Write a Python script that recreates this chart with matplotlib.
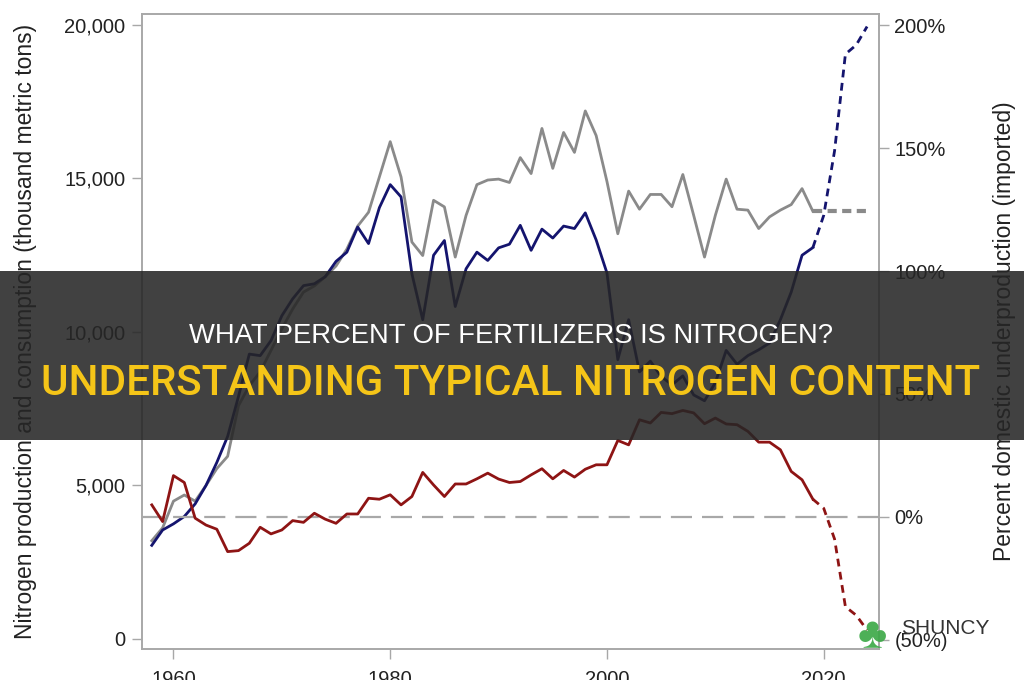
import matplotlib.pyplot as plt
from matplotlib.patches import Rectangle

plt.rcParams.update({"font.family": ["Liberation Sans", "DejaVu Sans"]})

# annual series, 1958-2019 (solid part)
years = list(range(1958, 2020))
production = [
    3050, 3550, 3750, 3990, 4400, 5000, 5750, 6600, 7900, 9280,
    9230, 9720, 10530, 11080, 11510, 11570, 11800, 12300, 12600, 13420,
    12880, 14050, 14800, 14400, 11900, 10400, 12500, 12980, 10830, 12060,
    12600, 12330, 12740, 12860, 13475, 12660, 13350, 13060, 13450, 13370,
    13880, 13000, 11920, 9100, 10400, 8700, 9050, 8550, 8280, 8570,
    7950, 7760, 8350, 9400, 8950, 9230, 9420, 9640, 10400, 11300,
    12500, 12750,
]
consumption = [
    3200, 3620, 4490, 4690, 4490, 5000, 5550, 5950, 7600, 8250,
    8700, 9400, 10100, 10750, 11300, 11500, 11800, 12150, 12700, 13450,
    13900, 15050, 16200, 15050, 12930, 12490, 14290, 14075, 12440, 13800,
    14800, 14950, 14980, 14870, 15680, 15160, 16630, 15330, 16500, 15850,
    17200, 16400, 14900, 13200, 14590, 14000, 14480, 14480, 14080, 15130,
    13800, 12440, 13800, 14980, 14000, 13970, 13370, 13750, 13970, 14150,
    14670, 13930,
]
underproduction = [
    4.9, -1.9, 16.8, 14.0, -0.5, -3.3, -5.0, -14.1, -13.7, -10.7,
    -4.2, -6.9, -5.3, -1.5, -2.2, 1.5, -0.9, -2.6, 1.2, 1.2,
    7.6, 7.2, 9.0, 4.9, 8.3, 18.1, 13.0, 8.3, 13.4, 13.4,
    15.5, 17.8, 15.4, 14.0, 14.4, 17.1, 19.6, 15.5, 18.9, 16.2,
    19.4, 21.2, 21.2, 31.1, 29.3, 39.5, 38.2, 42.5, 42.0, 43.3,
    42.3, 37.9, 40.2, 37.8, 37.5, 34.8, 30.4, 30.4, 27.3, 18.5,
    15.1, 7.2,
]

# projections, 2019-2024 (dashed part)
proj_years = [2019, 2020, 2021, 2022, 2023, 2024]
proj_production = [12750, 13800, 15900, 19050, 19350, 19950]
proj_consumption = [13930, 13930, 13930, 13930, 13930, 13930]
proj_underproduction = [7.2, 3.5, -9.0, -36.5, -40.0, -46.0]

left_ticks = [0, 5000, 10000, 15000, 20000]
left_labels = ["0", "5,000", "10,000", "15,000", "20,000"]
right_ticks = [-50, 0, 50, 100, 150, 200]
right_labels = ["(50%)", "0%", "50%", "100%", "150%", "200%"]
x_ticks = [1960, 1980, 2000, 2020]

title = "WHAT PERCENT OF FERTILIZERS IS NITROGEN?"
subtitle = "UNDERSTANDING TYPICAL NITROGEN CONTENT"

NAVY = "#14146e"
GRAY = "#8a8a8a"
RED = "#8e1414"
SPINE = "#a8a8a8"

fig = plt.figure(figsize=(10.24, 6.8), dpi=100)
ax = fig.add_axes([0.1387, 0.0456, 0.7197, 0.9338])
ax2 = ax.twinx()

ax.plot(years, consumption, color=GRAY, lw=2.0, zorder=3)
ax.plot(years, production, color=NAVY, lw=2.0, zorder=4)
ax.plot(proj_years, proj_consumption, color=GRAY, lw=3.0, dashes=(2.2, 1.3), zorder=3)
ax.plot(proj_years, proj_production, color=NAVY, lw=2.0, dashes=(2.8, 2.0), zorder=4)

ax2.axhline(0, color="#a8a8a8", lw=1.6, dashes=(9.5, 4.5), zorder=1)
ax2.plot(years, underproduction, color=RED, lw=2.0, zorder=3)
ax2.plot(proj_years, proj_underproduction, color=RED, lw=2.0, dashes=(2.8, 2.0), zorder=3)

ax.set_xlim(1957.1, 2025.1)
ax.set_ylim(-326, 20358)
ax2.set_ylim(-53.7, 204.5)

ax.set_xticks(x_ticks)
ax.set_yticks(left_ticks)
ax.set_yticklabels(left_labels)
ax2.set_yticks(right_ticks)
ax2.set_yticklabels(right_labels)

for a in (ax, ax2):
    for s in a.spines.values():
        s.set_color(SPINE)
        s.set_linewidth(1.2)
    a.tick_params(colors=SPINE, labelcolor="#222222", labelsize=14.5,
                  length=7, width=1.0)
ax.tick_params(axis="y", pad=5)
ax.tick_params(axis="x", pad=8)
ax2.tick_params(axis="y", pad=4)

ax.set_ylabel("Nitrogen production and consumption (thousand metric tons)",
              fontsize=16.5, color="#222222")
ax2.set_ylabel("Percent domestic underproduction (imported)",
               fontsize=16.5, color="#222222")
ax.yaxis.set_label_coords(-0.142, 0.5)
ax2.yaxis.set_label_coords(1.155, 0.5)

# dark title band on top of the chart
fig.add_artist(Rectangle((0, 0.3529), 1, 0.2485, transform=fig.transFigure,
                         facecolor="#262626", alpha=0.88, edgecolor="none",
                         zorder=10))

t1 = fig.text(0.499, 0.4956, title, color="white", ha="center", va="baseline",
              fontsize=24, family=["Liberation Sans", "DejaVu Sans"],
              zorder=11)
t2 = fig.text(0.499, 0.4191, subtitle, color="#f5c518", ha="center",
              va="baseline", fontsize=34, family=["Roboto", "DejaVu Sans"],
              fontweight="medium", zorder=11)

# scale the two title lines to the widths in the picture
fig.canvas.draw()
r = fig.canvas.get_renderer()
for t, w in ((t1, 646), (t2, 938)):
    cur = t.get_window_extent(r).width
    t.set_fontsize(t.get_fontsize() * w / cur)

# watermark
fig.text(0.852, 0.063, "\u2663", color="#3aa845", fontsize=32, ha="center",
         va="center", zorder=12, alpha=0.9)
fig.text(0.923, 0.075, "SHUNCY", color="#333333", fontsize=15, ha="center",
         va="center", zorder=12)

fig.savefig("out.png", dpi=100)
